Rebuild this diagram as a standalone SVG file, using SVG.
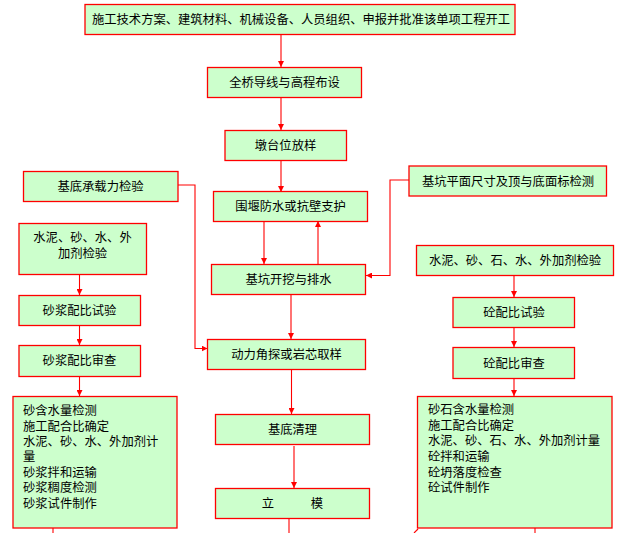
<svg xmlns="http://www.w3.org/2000/svg" width="618" height="533" viewBox="0 0 618 533">
<defs>
<marker id="ah" viewBox="0 0 10 10" refX="10" refY="5" markerWidth="6" markerHeight="6" orient="auto" markerUnits="userSpaceOnUse">
<path d="M0,0 L10,5 L0,10 z" fill="#ff0000"/>
</marker>
<style>
.b{fill:#ccffcc;stroke:#ff0000;stroke-width:1.3}
.t{font-family:"Noto Sans CJK SC","Liberation Sans",sans-serif;font-size:12.3px;fill:#000;text-anchor:middle}
.l{font-family:"Noto Sans CJK SC","Liberation Sans",sans-serif;font-size:12.3px;fill:#000}
.c{fill:none;stroke:#ff0000;stroke-width:1.1}
</style>
</defs>
<rect width="618" height="533" fill="#fff"/>
<g id="connectors">
<line class="c" x1="281" y1="34" x2="281" y2="67" marker-end="url(#ah)"/>
<line class="c" x1="281" y1="97" x2="281" y2="130" marker-end="url(#ah)"/>
<line class="c" x1="281" y1="160" x2="281" y2="192" marker-end="url(#ah)"/>
<line class="c" x1="264" y1="221" x2="264" y2="264" marker-end="url(#ah)"/>
<line class="c" x1="318" y1="264" x2="318" y2="221" marker-end="url(#ah)"/>
<polyline class="c" points="409,180 390,180 390,275.5 366,275.5" marker-end="url(#ah)"/>
<line class="c" x1="291" y1="294" x2="291" y2="339" marker-end="url(#ah)"/>
<polyline class="c" points="178,185 195,185 195,348.5 207.5,348.5" marker-end="url(#ah)"/>
<line class="c" x1="291.5" y1="369" x2="291.5" y2="414" marker-end="url(#ah)"/>
<line class="c" x1="294" y1="446" x2="294" y2="488" marker-end="url(#ah)"/>
<line class="c" x1="289" y1="518" x2="289" y2="533"/>
<line class="c" x1="79.5" y1="274" x2="79.5" y2="295" marker-end="url(#ah)"/>
<line class="c" x1="79.5" y1="325" x2="79.5" y2="345" marker-end="url(#ah)"/>
<line class="c" x1="79.5" y1="376" x2="79.5" y2="396" marker-end="url(#ah)"/>
<line class="c" x1="53" y1="528" x2="53" y2="533"/>
<line class="c" x1="514" y1="275" x2="514" y2="297" marker-end="url(#ah)"/>
<line class="c" x1="514" y1="327" x2="514" y2="347" marker-end="url(#ah)"/>
<line class="c" x1="514" y1="378" x2="514" y2="396" marker-end="url(#ah)"/>
<line class="c" x1="535" y1="528" x2="535" y2="533"/>
<line class="c" x1="414" y1="533" x2="418" y2="529"/>
</g>
<g id="n1"><rect class="b" x="85" y="4.5" width="430" height="30"/><text class="t" x="301" y="24">施工技术方案、建筑材料、机械设备、人员组织、申报并批准该单项工程开工</text></g>
<g id="n2"><rect class="b" x="207.5" y="67.5" width="154" height="30"/><text class="t" x="284.5" y="87">全桥导线与高程布设</text></g>
<g id="n3"><rect class="b" x="225" y="130.5" width="121.5" height="30"/><text class="t" x="285.5" y="150">墩台位放样</text></g>
<g id="n4"><rect class="b" x="23.5" y="171.5" width="154.5" height="30"/><text class="t" x="100.5" y="191">基底承载力检验</text></g>
<g id="n5"><rect class="b" x="409" y="166" width="197.5" height="30"/><text class="t" x="508" y="185.5">基坑平面尺寸及顶与底面标检测</text></g>
<g id="n6"><rect class="b" x="213.5" y="191.5" width="154" height="30"/><text class="t" x="290.5" y="211">围堰防水或抗壁支护</text></g>
<g id="n7"><rect class="b" x="19" y="223.5" width="127.5" height="51"/><text class="t" x="82.5" y="242">水泥、砂、水、外</text><text class="t" x="82.5" y="257.5">加剂检验</text></g>
<g id="n8"><rect class="b" x="211.5" y="264.5" width="154" height="30"/><text class="t" x="288.5" y="284">基坑开挖与排水</text></g>
<g id="n9"><rect class="b" x="416.5" y="245.5" width="197" height="30"/><text class="t" x="515" y="265">水泥、砂、石、水、外加剂检验</text></g>
<g id="n10"><rect class="b" x="19" y="295.5" width="121.5" height="30"/><text class="t" x="79.5" y="315">砂浆配比试验</text></g>
<g id="n11"><rect class="b" x="453" y="297.5" width="121.5" height="30"/><text class="t" x="514" y="317">砼配比试验</text></g>
<g id="n12"><rect class="b" x="207.5" y="339.5" width="158" height="30"/><text class="t" x="286.5" y="359">动力角探或岩芯取样</text></g>
<g id="n13"><rect class="b" x="19" y="345.5" width="121.5" height="31"/><text class="t" x="79.5" y="365">砂浆配比审查</text></g>
<g id="n14"><rect class="b" x="453" y="347.5" width="121.5" height="31"/><text class="t" x="514" y="367.5">砼配比审查</text></g>
<g id="n15"><rect class="b" x="13" y="396.5" width="164" height="131.5"/>
<text class="l" x="23" y="414.5">砂含水量检测</text>
<text class="l" x="23" y="430.5">施工配合比确定</text>
<text class="l" x="23" y="445.5">水泥、砂、水、外加剂计</text>
<text class="l" x="23" y="461">量</text>
<text class="l" x="23" y="477">砂浆拌和运输</text>
<text class="l" x="23" y="492">砂浆稠度检测</text>
<text class="l" x="23" y="508">砂浆试件制作</text>
</g>
<g id="n16"><rect class="b" x="215.5" y="414.5" width="154" height="30"/><text class="t" x="292.5" y="434">基底清理</text></g>
<g id="n17"><rect class="b" x="417.5" y="396.5" width="194.5" height="131.5"/>
<text class="l" x="428" y="414">砂石含水量检测</text>
<text class="l" x="428" y="430">施工配合比确定</text>
<text class="l" x="428" y="445">水泥、砂、石、水、外加剂计量</text>
<text class="l" x="428" y="461">砼拌和运输</text>
<text class="l" x="428" y="477">砼坍落度检查</text>
<text class="l" x="428" y="492">砼试件制作</text>
</g>
<g id="n18"><rect class="b" x="215.5" y="488.5" width="154" height="30"/><text class="t" x="268" y="508">立</text><text class="t" x="317" y="508">模</text></g>
</svg>
